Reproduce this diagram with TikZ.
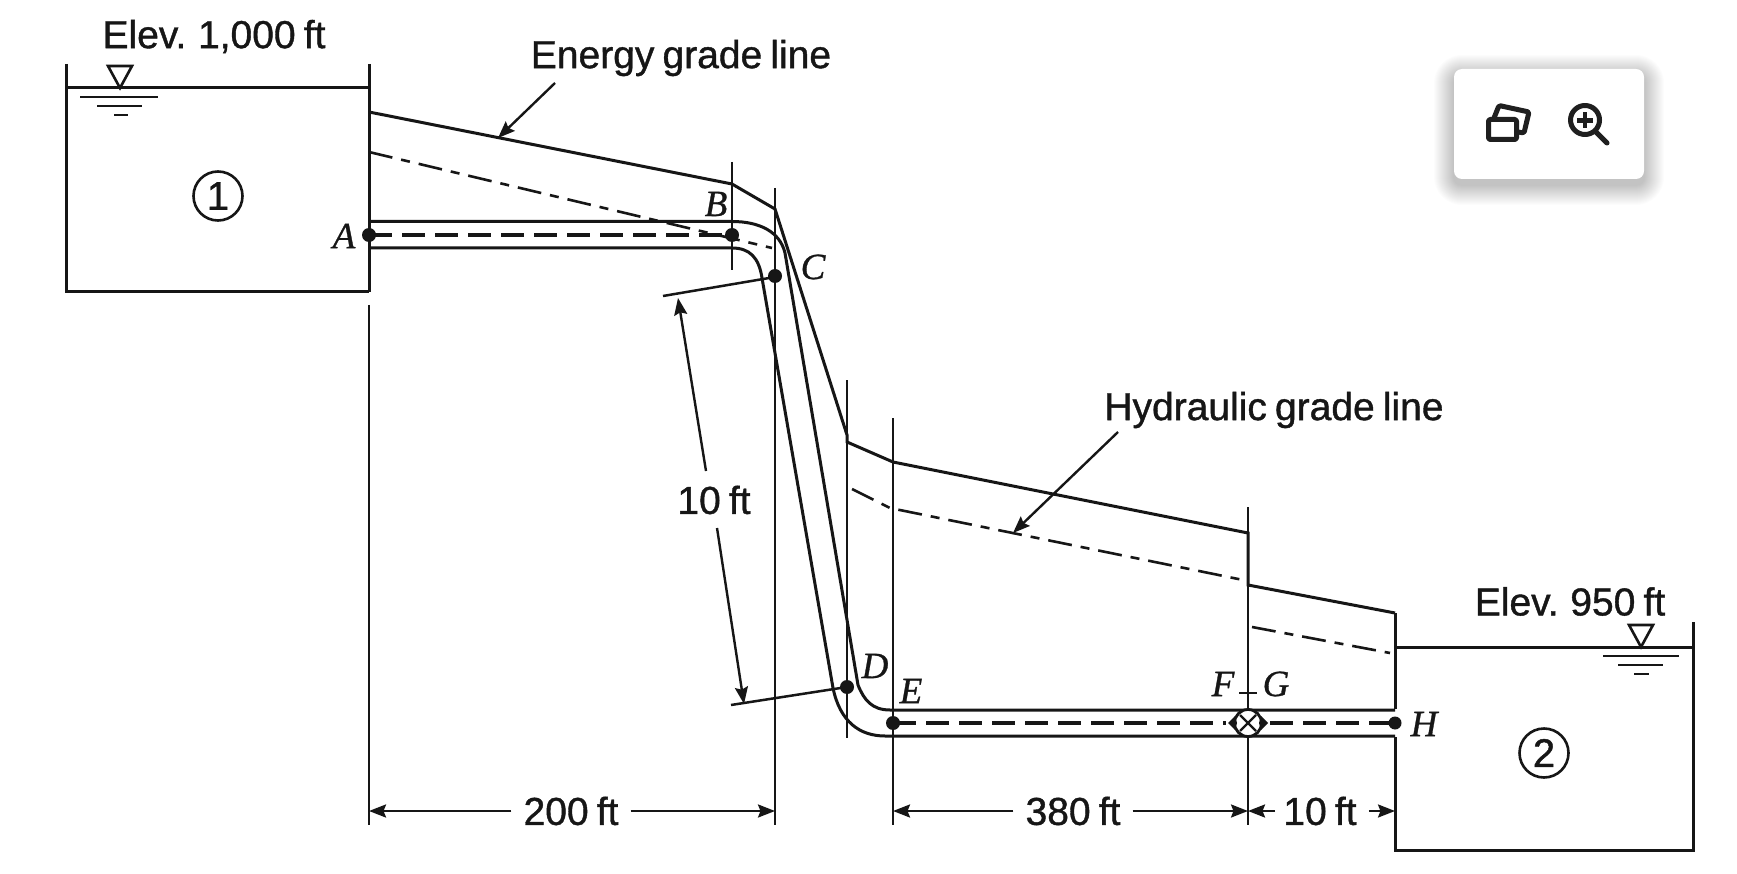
\documentclass[tikz,border=0pt]{standalone}
\usepackage{fontspec}
\setmainfont[FakeBold=1,WordSpace=0.75]{Liberation Sans}
\newfontfamily\serifit[ItalicFont=Liberation Serif Italic,ItalicFeatures={FakeBold=0.8}]{Liberation Serif}
\usetikzlibrary{arrows.meta}
\definecolor{ink}{HTML}{161616}
\definecolor{icon}{HTML}{1F1F1F}
\tikzset{
  heavy/.style={draw=ink,line width=3pt,line join=miter},
  thin line/.style={draw=ink,line width=2.6pt},
  guide/.style={draw=ink,line width=2.5pt},
  centre/.style={draw=ink,line width=3.4pt,dash pattern=on 23pt off 10pt},
  hgl/.style={draw=ink,line width=2.6pt,dash pattern=on 24pt off 9pt on 9pt off 9pt},
  dimarrow/.style={draw=ink,line width=2.4pt,-{Stealth[length=17pt,width=13pt,inset=2.5pt]}},
  lbl/.style={inner sep=0pt,text=ink,font=\fontsize{39}{39}\selectfont},
  pt/.style={inner sep=0pt,text=ink,font=\fontsize{37}{37}\selectfont\serifit\itshape},
  dotmark/.style={circle,fill=ink,inner sep=0pt,minimum size=14pt},
  numcircle/.style={circle,draw=ink,line width=2.6pt,inner sep=0pt,minimum size=49pt,text=ink,font=\fontsize{40}{40}\selectfont},
  water/.style={draw=ink,line width=2.9pt},
  icon line/.style={draw=icon,line width=5pt,line join=round,line cap=round}
}
\begin{document}
\begin{tikzpicture}[x=1pt,y=-1pt]
\useasboundingbox (0,0) rectangle (1737,874);
\fill[white] (0,0) rectangle (1737,874);

% named points
\coordinate (A) at (369,235);
\coordinate (B) at (732,235);
\coordinate (C) at (775,277);
\coordinate (D) at (847,687);
\coordinate (E) at (893,723);
\coordinate (V) at (1248,723);
\coordinate (H) at (1395,723);

% tank 1
\draw[heavy] (66.5,64) -- (66.5,292) -- (369,292);
\draw[heavy] (369,64) -- (369,292);
\draw[heavy] (66.5,88) -- (369,88);
\draw[thin line] (108,66) -- (132,66) -- (120,88) -- cycle;
\draw[water] (80,97) -- (158,97);
\draw[water] (97,106) -- (142,106);
\draw[water] (114,115) -- (128,115);

% tank 2
\draw[heavy] (1395,613) -- (1395,709);
\draw[heavy] (1395,737) -- (1395,850) -- (1693,850) -- (1693,622);
\draw[heavy] (1395,647) -- (1693,647);
\draw[thin line] (1629,625) -- (1653,625) -- (1641,647) -- cycle;
\draw[water] (1603,656) -- (1679,656);
\draw[water] (1618,665) -- (1663,665);
\draw[water] (1634,674) -- (1649,674);

% guides
\draw[guide] (369,305) -- (369,825);
\draw[guide] (732,162) -- (732,270);
\draw[guide] (775,188) -- (775,825);
\draw[guide] (847,380) -- (847,738);
\draw[guide] (893,418) -- (893,825);
\draw[guide] (1248,507) -- (1248,710);
\draw[guide] (1248,737) -- (1248,825);
\draw[guide] (1239,693) -- (1257,693);

% energy grade line
\draw[heavy] (369,112) -- (732,184) -- (775,209) -- (847,435) -- (847,442) -- (893,462) -- (1248,533) -- (1248,585) -- (1395,613);

% hydraulic grade line
\draw[hgl] (369,152) -- (772,248);
\draw[hgl] (852,489) -- (890,508) -- (1248,581);
\draw[hgl] (1252,627) -- (1390,653);

% pipe
\draw[heavy] (369,221.5) -- (732,221.5) .. controls (760,221.5) and (780,232) .. (785,253) -- (858,685) .. controls (864,700) and (872,710) .. (890,710) -- (1395,710);
\draw[heavy] (369,248) -- (732,248) .. controls (750,248) and (759,258) .. (762,278) -- (833,688) .. controls (840,722) and (860,736) .. (885,736) -- (1395,736);
\draw[centre] (A) -- (B);
\draw[centre] (E) -- (1226,723);
\draw[centre] (1270,723) -- (H);

% extension lines of the 10 ft dimension
\draw[guide] (663,296) -- (C);
\draw[guide] (731,705) -- (D);

% valve
\node[draw=ink,fill=white,line width=2.8pt,circle,inner sep=0pt,minimum size=27pt] (valve) at (V) {};
\draw[ink,line width=2.4pt] (1240,715) -- (1256,731) (1240,731) -- (1256,715);
\fill[ink] (1228,723) -- (1235,716) -- (1237,723) -- (1235,730) -- cycle;
\fill[ink] (1268,723) -- (1261,716) -- (1259,723) -- (1261,730) -- cycle;

% points
\node[dotmark] (dA) at (A) {};
\node[dotmark] (dB) at (B) {};
\node[dotmark] (dC) at (775,276) {};
\node[dotmark] (dD) at (D) {};
\node[dotmark] (dE) at (E) {};
\node[dotmark,minimum size=13pt] (dH) at (H) {};

% point letters
\node[pt] (lA) at (344,236) {A};
\node[pt] (lB) at (716,204) {B};
\node[pt] (lC) at (813,267) {C};
\node[pt] (lD) at (875,666) {D};
\node[pt] (lE) at (911,691) {E};
\node[pt] (lF) at (1223,684) {F};
\node[pt] (lG) at (1276,684) {G};
\node[pt] (lH) at (1424,724) {H};

% numbered reservoirs
\node[numcircle] (n1) at (218,196) {1};
\node[numcircle] (n2) at (1544,753) {2};

% text labels
\node[lbl] (elev1) at (214,36.5) {Elev. 1,000 ft};
\node[lbl] (elev2) at (1570,601.5) {Elev. 950 ft};
\node[lbl] (egl) at (681,58) {Energy grade line};
\node[lbl] (hgltext) at (1274,410) {Hydraulic grade line};
\node[lbl] (ten) at (714,500) {10 ft};
\node[lbl] (d200) at (571,811) {200 ft};
\node[lbl] (d380) at (1073,811) {380 ft};
\node[lbl] (d10) at (1320,811) {10 ft};

% leaders
\coordinate (eglend) at (498,138);
\coordinate (hglend) at (1013,533);
\draw[dimarrow] (555,83) -- (eglend);
\draw[dimarrow] (1118,432) -- (hglend);

% dimensions
\draw[dimarrow] (706,471) -- (678,298);
\draw[dimarrow] (717,528) -- (744,704);
\coordinate (x369) at (369,811);
\coordinate (x775) at (775,811);
\coordinate (x893) at (893,811);
\coordinate (x1248) at (1248,811);
\coordinate (x1395) at (1395,811);
\draw[dimarrow] (d200.west) ++(-12,0) -- (x369);
\draw[dimarrow] (d200.east) ++(12,0) -- (x775);
\draw[dimarrow] (d380.west) ++(-12,0) -- (x893);
\draw[dimarrow] (d380.east) ++(12,0) -- (x1248);
\draw[dimarrow] (d10.west) ++(-8,0) -- (x1248);
\draw[dimarrow] (d10.east) ++(12,0) -- (x1395);

% floating toolbar
\foreach \g in {20,19,...,1}{
  \fill[black,opacity=0.013,rounded corners=8pt+\g pt] (1454-\g,69+6-\g) rectangle (1644+\g,179+6+\g);
}
\fill[white,rounded corners=8pt] (1454,69) rectangle (1644,179);
\draw[icon line,rounded corners=1.5pt] (1494,118) -- (1499,105.5) -- (1529,112) -- (1524,133) -- (1518,132);
\draw[icon line,rounded corners=1.5pt] (1488.5,119.5) -- (1516.5,119.5) -- (1516.5,139.5) -- (1488.5,139.5) -- cycle;
\draw[icon line] (1585,120) circle (14.5pt);
\draw[icon line] (1596,132) -- (1607,143);
\draw[icon,line width=4.5pt] (1577,120.5) -- (1593,120.5) (1585,112.5) -- (1585,128.5);
\end{tikzpicture}
\end{document}
